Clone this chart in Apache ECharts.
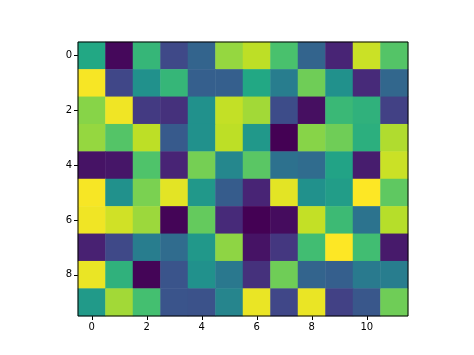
<!DOCTYPE html>
<html>
<head>
<meta charset="utf-8">
<script src="https://cdn.jsdelivr.net/npm/echarts@6/dist/echarts.min.js"></script>
<style>
  html, body { margin: 0; padding: 0; background: #fff; }
  #chart { width: 474px; height: 355px; }
</style>
</head>
<body>
<div id="chart"></div>
<script>
// column and row indices of the image
const cols = ['0', '1', '2', '3', '4', '5', '6', '7', '8', '9', '10', '11'];
const rows = ['0', '1', '2', '3', '4', '5', '6', '7', '8', '9'];

// cell values, one array per row
const row0 = [0.60, 0.02, 0.66, 0.22, 0.32, 0.84, 0.90, 0.71, 0.32, 0.10, 0.92, 0.73];
const row1 = [0.99, 0.21, 0.50, 0.66, 0.30, 0.30, 0.60, 0.42, 0.78, 0.50, 0.12, 0.33];
const row2 = [0.82, 0.98, 0.17, 0.14, 0.50, 0.91, 0.86, 0.23, 0.04, 0.67, 0.64, 0.19];
const row3 = [0.84, 0.73, 0.90, 0.28, 0.50, 0.90, 0.53, 0.00, 0.82, 0.78, 0.63, 0.88];
const row4 = [0.05, 0.06, 0.72, 0.10, 0.79, 0.46, 0.74, 0.37, 0.35, 0.58, 0.08, 0.92];
const row5 = [0.99, 0.50, 0.80, 0.96, 0.53, 0.29, 0.10, 0.96, 0.50, 0.55, 1.00, 0.75];
const row6 = [0.98, 0.93, 0.85, 0.01, 0.76, 0.12, 0.00, 0.03, 0.91, 0.68, 0.38, 0.89];
const row7 = [0.09, 0.22, 0.42, 0.35, 0.53, 0.83, 0.05, 0.16, 0.69, 1.00, 0.69, 0.07];
const row8 = [0.97, 0.64, 0.01, 0.26, 0.50, 0.40, 0.14, 0.78, 0.32, 0.30, 0.41, 0.42];
const row9 = [0.54, 0.86, 0.70, 0.26, 0.25, 0.45, 0.97, 0.21, 0.97, 0.19, 0.27, 0.78];
const values = [row0, row1, row2, row3, row4, row5, row6, row7, row8, row9];

const viridis = ['#440154', '#482475', '#414487', '#355f8d', '#2a788e', '#21918c',
                 '#22a884', '#44bf70', '#7ad151', '#bddf26', '#fde725'];

const cells = [];
values.forEach((r, y) => r.forEach((v, x) => cells.push([x, y, v])));

const chart = echarts.init(document.getElementById('chart'));
const labelStyle = { color: '#000', fontSize: 10, fontFamily: 'DejaVu Sans' };

chart.setOption({
  animation: false,
  grid: { left: 78, top: 42, width: 330, height: 274, show: true, borderColor: '#000', borderWidth: 1, backgroundColor: 'transparent', z: 3 },
  xAxis: {
    type: 'category', data: cols, position: 'bottom',
    axisLine: { show: false },
    axisTick: { show: true, interval: 1, alignWithLabel: true, length: 4, lineStyle: { color: '#000' } },
    axisLabel: Object.assign({ interval: 1, margin: 6 }, labelStyle),
    splitLine: { show: false }
  },
  yAxis: {
    type: 'category', data: rows, inverse: true,
    axisLine: { show: false },
    axisTick: { show: true, interval: 1, alignWithLabel: true, length: 4, lineStyle: { color: '#000' } },
    axisLabel: Object.assign({ interval: 1, margin: 6 }, labelStyle),
    splitLine: { show: false }
  },
  visualMap: { show: false, min: 0, max: 1, dimension: 2, inRange: { color: viridis } },
  series: [{
    type: 'heatmap',
    data: cells,
    itemStyle: { borderWidth: 0 },
    emphasis: { disabled: true }
  }]
});
</script>
</body>
</html>
